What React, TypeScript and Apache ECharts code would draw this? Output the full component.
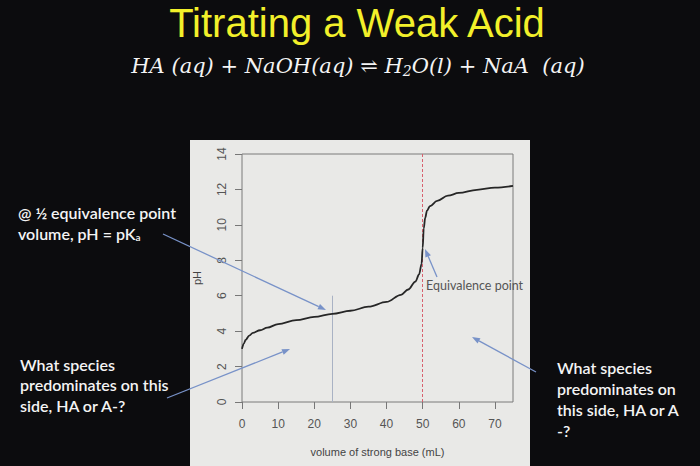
import React, { useEffect, useRef } from "react";
import * as echarts from "echarts";

// ---- data ----
const volume = [0, 0.5, 1, 2, 3, 5, 7, 10, 15, 20, 25, 30, 35, 40, 44, 46, 48, 49, 49.7, 50, 50.3, 50.7, 51.2, 52, 54, 57, 60, 65, 70, 75];
const pH = [3.0, 3.3, 3.5, 3.75, 3.9, 4.05, 4.2, 4.4, 4.62, 4.8, 4.98, 5.15, 5.38, 5.65, 6.05, 6.35, 6.8, 7.2, 7.8, 8.7, 9.8, 10.4, 10.8, 11.05, 11.35, 11.65, 11.8, 11.98, 12.1, 12.2];
const xTicks = [0, 10, 20, 30, 40, 50, 60, 70];
const yTicks = [0, 2, 4, 6, 8, 10, 12, 14];
const halfEqVolume = 25;
const halfEqLineTop = 6;
const eqVolume = 50;

const TEXT_FONT = "Lato, 'Open Sans', sans-serif";
const ARROW = "#7892c8";

function arrow(x1: number, y1: number, x2: number, y2: number) {
  const ang = Math.atan2(y2 - y1, x2 - x1);
  const len = 8, half = 3;
  const bx = x2 - len * Math.cos(ang), by = y2 - len * Math.sin(ang);
  const px = -Math.sin(ang) * half, py = Math.cos(ang) * half;
  return [
    { type: "line", shape: { x1, y1, x2: bx, y2: by }, style: { stroke: ARROW, lineWidth: 1.3 }, z: 20 },
    { type: "polygon", shape: { points: [[x2, y2], [bx + px, by + py], [bx - px, by - py]] }, style: { fill: ARROW }, z: 20 },
  ];
}

function block(x: number, y: number, lines: string[], lh: number, size: number) {
  return lines.map((t, i) => ({
    type: "text",
    x,
    y: y + i * lh,
    style: { text: t, fill: "#f4f4f4", font: `600 ${size}px ${TEXT_FONT}`, verticalAlign: "middle" },
    z: 20,
  }));
}

export default function App() {
  const ref = useRef<HTMLDivElement>(null);
  useEffect(() => {
    const chart = echarts.init(ref.current!, null, { renderer: "svg" });
    const data = volume.map((v, i) => [v, pH[i]]);
    chart.setOption({
      animation: false,
      backgroundColor: "#0c0c0e",
      grid: { left: 242, top: 154, width: 271, height: 248, show: true, borderColor: "#7a7a7a", borderWidth: 1, backgroundColor: "transparent" },
      xAxis: {
        type: "value", min: 0, max: 75,
        name: "volume of strong base (mL)", nameLocation: "middle", nameGap: 44,
        nameTextStyle: { color: "#444", fontSize: 11, fontFamily: "'Liberation Sans', Arial, sans-serif" },
        axisLine: { show: false },
        axisTick: { show: true, length: 7, lineStyle: { color: "#777" }, customValues: xTicks },
        axisLabel: { color: "#555", fontSize: 12, margin: 16, fontFamily: "'Liberation Sans', Arial, sans-serif", customValues: xTicks },
        splitLine: { show: false },
      },
      yAxis: {
        type: "value", min: 0, max: 14, interval: 2,
        name: "pH", nameLocation: "middle", nameGap: 40, nameRotate: 90,
        nameTextStyle: { color: "#444", fontSize: 11, fontFamily: "'Liberation Sans', Arial, sans-serif" },
        axisLine: { show: false },
        axisTick: { show: true, length: 7, lineStyle: { color: "#777" }, customValues: yTicks },
        axisLabel: { color: "#555", fontSize: 12, rotate: 90, margin: 14, fontFamily: "'Liberation Sans', Arial, sans-serif", customValues: yTicks },
        splitLine: { show: false },
      },
      series: [
        {
          type: "line",
          data,
          smooth: 0.35,
          smoothMonotone: "x",
          symbol: "none",
          lineStyle: { color: "#262626", width: 1.8 },
          z: 5,
          markLine: {
            silent: true,
            symbol: "none",
            label: { show: false },
            data: [
              [{ coord: [halfEqVolume, 0], lineStyle: { color: "#a9b2c4", width: 1, type: "solid" } }, { coord: [halfEqVolume, halfEqLineTop] }],
              [{ coord: [eqVolume, 0], lineStyle: { color: "#d8606e", width: 1, type: [3, 2] } }, { coord: [eqVolume, 14] }],
            ],
          },
        },
      ],
      graphic: [
        { type: "rect", shape: { x: 190, y: 140, width: 340, height: 326 }, style: { fill: "#e9e9e7" }, z: -10 },
        {
          type: "text", x: 357, y: 23,
          style: { text: "Titrating a Weak Acid", fill: "#f2f02a", font: "40px 'Liberation Sans', Arial, sans-serif", lineHeight: 40, align: "center", verticalAlign: "middle" },
          z: 20,
        },
        {
          type: "text", x: 358, y: 66,
          style: {
            text: "{i|HA (aq) + NaOH(aq) ⇌ H}{s|2}{i|O(l) + NaA  (aq)}",
            align: "center", verticalAlign: "middle",
            rich: {
              i: { fill: "#f4f4f4", font: "italic 21px 'DejaVu Serif', 'Liberation Serif', serif" },
              s: { fill: "#f4f4f4", font: "italic 14px 'DejaVu Serif', 'Liberation Serif', serif", padding: [9, 0, 0, 0] },
            },
          },
          z: 20,
        },
        ...block(18, 212, ["@ ½ equivalence point"], 21, 16),
        {
          type: "text", x: 18, y: 233,
          style: {
            text: "{n|volume, pH = pK}{s|a}",
            verticalAlign: "middle",
            rich: {
              n: { fill: "#f4f4f4", font: `600 16px ${TEXT_FONT}` },
              s: { fill: "#f4f4f4", font: `600 10px ${TEXT_FONT}`, padding: [8, 0, 0, 0] },
            },
          },
          z: 20,
        },
        ...block(20, 364, ["What species", "predominates on this", "side, HA or A-?"], 20.5, 16),
        ...block(557, 367, ["What species", "predominates on", "this side, HA or A", "-?"], 21, 16),
        {
          type: "text", x: 426, y: 285,
          style: { text: "Equivalence point", fill: "#555", font: `12.5px ${TEXT_FONT}`, verticalAlign: "middle" },
          z: 20,
        },
        ...arrow(163, 234, 326, 310),
        ...arrow(167, 398, 290, 349),
        ...arrow(536, 372, 472, 337),
        ...arrow(437, 277, 425, 249),
      ],
    });
    return () => chart.dispose();
  }, []);
  return <div ref={ref} style={{ position: "fixed", left: 0, top: 0, width: 700, height: 466 }} />;
}
